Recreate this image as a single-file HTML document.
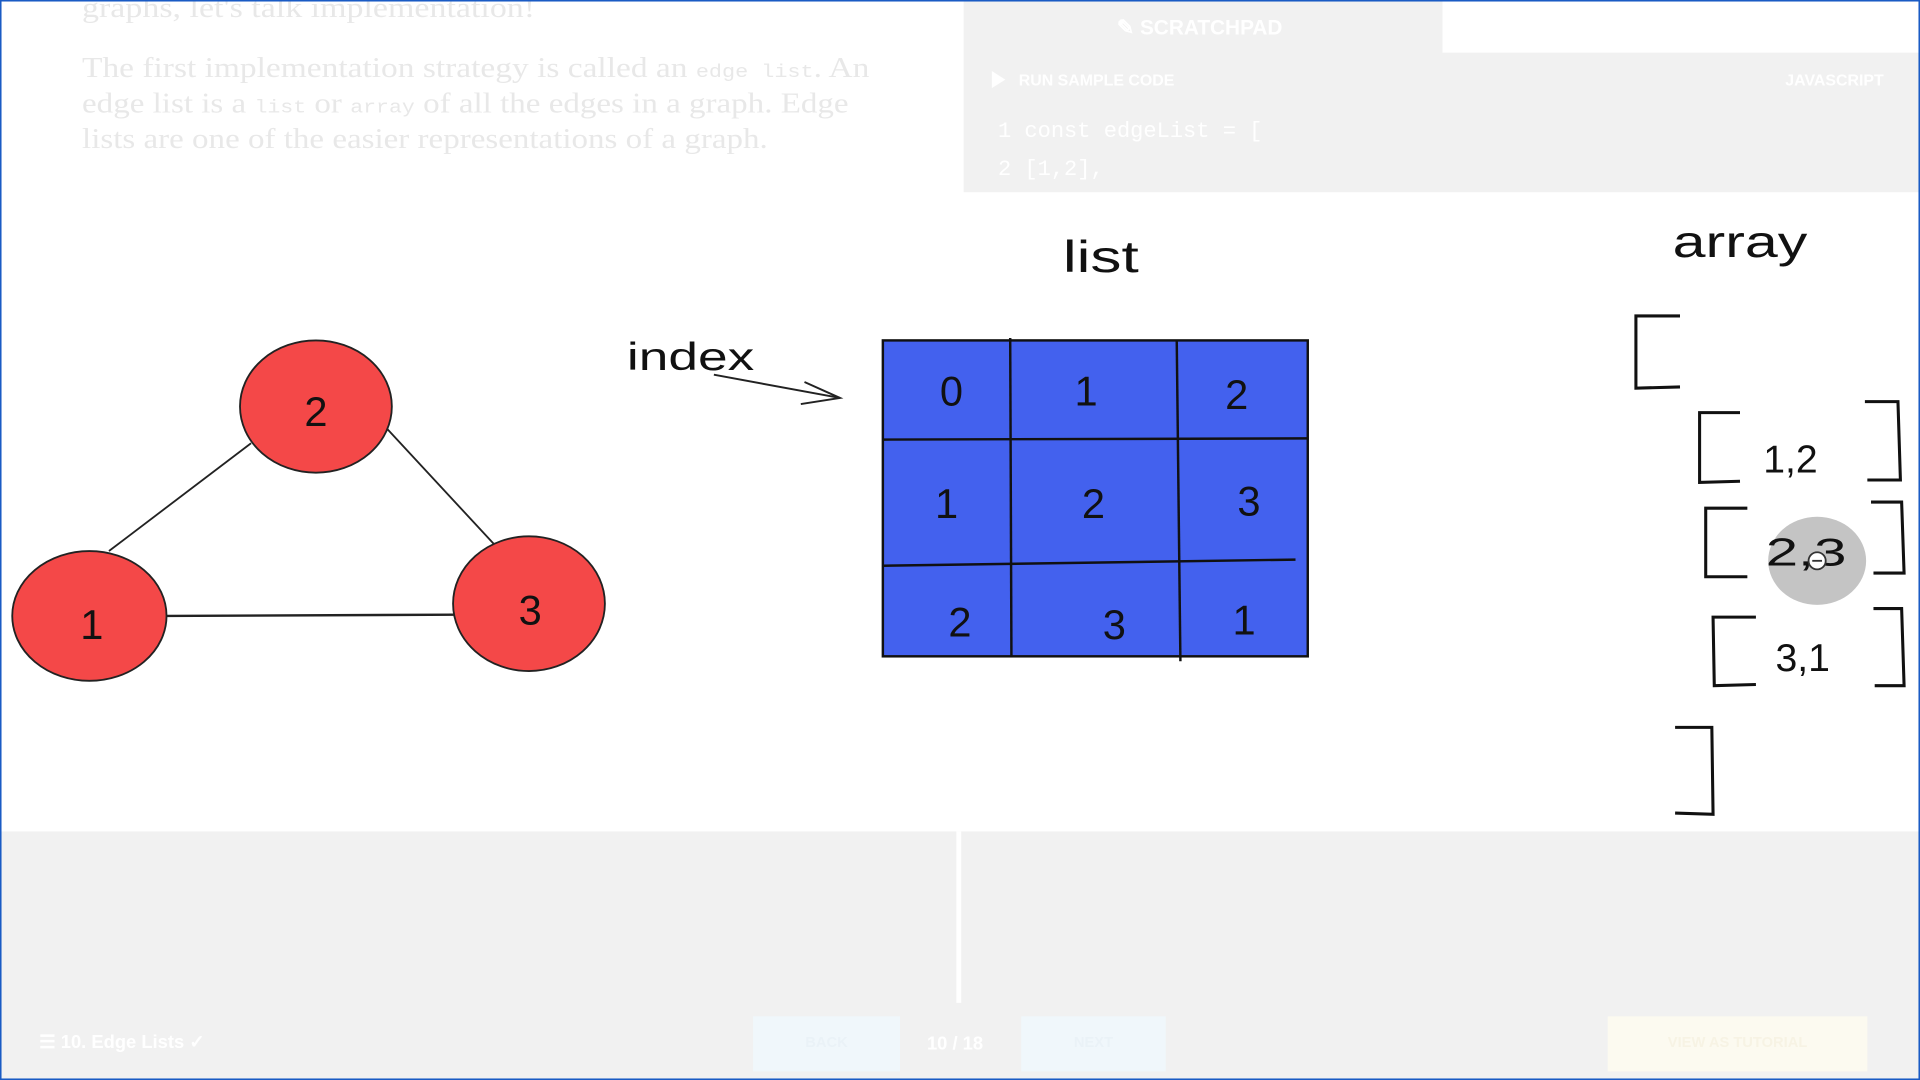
<!DOCTYPE html>
<html><head><meta charset="utf-8"><style>
html,body{margin:0;padding:0;background:#fff;width:1920px;height:1080px;overflow:hidden}
svg{display:block}
</style></head><body>
<svg width="1920" height="1080" viewBox="0 0 1568 882" xmlns="http://www.w3.org/2000/svg">
<rect x="0" y="0" width="1568" height="882" fill="#fff"/>
<g font-family="Liberation Serif, serif" font-size="23" fill="#e8e8e8">
<text x="67" y="14" textLength="370" lengthAdjust="spacingAndGlyphs">graphs, let's talk implementation!</text>
<text x="67" y="63" textLength="643" lengthAdjust="spacingAndGlyphs">The first implementation strategy is called an <tspan font-family="Liberation Mono" font-size="15">edge list</tspan>. An</text>
<text x="67" y="92" textLength="626" lengthAdjust="spacingAndGlyphs">edge list is a <tspan font-family="Liberation Mono" font-size="15">list</tspan> or <tspan font-family="Liberation Mono" font-size="15">array</tspan> of all the edges in a graph. Edge</text>
<text x="67" y="121" textLength="560" lengthAdjust="spacingAndGlyphs">lists are one of the easier representations of a graph.</text>
</g>
<rect x="787" y="0" width="781" height="157" fill="#f1f1f1"/>
<rect x="1178" y="0" width="390" height="43" fill="#fff"/>
<g font-family="Liberation Sans, sans-serif" fill="#fff" font-weight="bold">
<text x="912" y="28" font-size="17">✎ SCRATCHPAD</text>
<text x="832" y="70" font-size="13">RUN SAMPLE CODE</text>
<text x="1458" y="70" font-size="13">JAVASCRIPT</text>
</g>
<polygon points="810,58 810,72 821,65" fill="#fff"/>
<g font-family="Liberation Mono, monospace" font-size="18" fill="#fff">
<text x="815" y="112">1 const edgeList = [</text>
<text x="815" y="143">2   [1,2],</text>
</g>
<rect x="0" y="679" width="1568" height="203" fill="#f1f1f1"/>
<rect x="781" y="679" width="4" height="140" fill="#fff"/>
<rect x="615" y="830" width="120" height="45" fill="#f0f7fb"/>
<rect x="834" y="830" width="118" height="45" fill="#f0f7fb"/>
<rect x="1313" y="830" width="212" height="45" fill="#fcfaf0"/>
<g font-family="Liberation Sans, sans-serif" font-weight="bold" fill="#fff" font-size="15">
<text x="32" y="856">☰ 10. Edge Lists ✓</text>
<text x="757" y="857">10 / 18</text>
<text x="675" y="855" text-anchor="middle" font-size="12" fill="#eaf2f7">BACK</text>
<text x="893" y="855" text-anchor="middle" font-size="12" fill="#eaf2f7">NEXT</text>
<text x="1419" y="855" text-anchor="middle" font-size="12" fill="#f7f3e4">VIEW AS TUTORIAL</text>
</g>
<g stroke="#222" stroke-width="1.5">
<line x1="89" y1="450" x2="205" y2="362"/>
<line x1="316" y1="350" x2="404" y2="445"/>
<line x1="136" y1="503" x2="371" y2="502" stroke-width="2"/>
</g>
<g fill="#f44848" stroke="#222" stroke-width="1.5">
<ellipse cx="258" cy="332" rx="62" ry="54"/>
<ellipse cx="73" cy="503" rx="63" ry="53"/>
<ellipse cx="432" cy="493" rx="62" ry="55"/>
</g>
<g font-family="Liberation Sans, sans-serif" font-size="34" fill="#111" text-anchor="middle">
<text x="258" y="348">2</text>
<text x="75" y="522">1</text>
<text x="433" y="510">3</text>
</g>
<text x="512" y="302" font-family="Liberation Sans, sans-serif" font-size="32" fill="#111" textLength="104" lengthAdjust="spacingAndGlyphs">index</text>
<g stroke="#222" stroke-width="1.6" fill="none">
<line x1="583" y1="306" x2="686" y2="325"/>
<polyline points="657,312 686,325 654,330"/>
</g>
<text x="868" y="222" font-family="Liberation Sans, sans-serif" font-size="36" fill="#111" textLength="62" lengthAdjust="spacingAndGlyphs">list</text>
<rect x="721" y="278" width="347" height="258" fill="#4361ee" stroke="#111" stroke-width="2"/>
<g stroke="#111" stroke-width="2">
<line x1="825" y1="276" x2="826" y2="536"/>
<line x1="961" y1="278" x2="964" y2="540"/>
<line x1="721" y1="359" x2="1068" y2="358"/>
<line x1="721" y1="462" x2="1058" y2="457"/>
</g>
<g font-family="Liberation Sans, sans-serif" font-size="34" fill="#111" text-anchor="middle">
<text x="777" y="331">0</text><text x="887" y="331">1</text><text x="1010" y="334">2</text>
<text x="773" y="423">1</text><text x="893" y="423">2</text><text x="1020" y="421">3</text>
<text x="784" y="520">2</text><text x="910" y="522">3</text><text x="1016" y="518">1</text>
</g>
<text x="1366" y="210" font-family="Liberation Sans, sans-serif" font-size="36" fill="#111" textLength="110" lengthAdjust="spacingAndGlyphs">array</text>
<g stroke="#111" stroke-width="2.5" fill="none">
<polyline points="1372,258 1336,258 1336,317 1372,316"/>
<polyline points="1421,337 1388,337 1388,394 1421,393"/>
<polyline points="1523,328 1550,328 1552,392 1525,392"/>
<polyline points="1427,415 1393,415 1393,471 1427,471"/>
<polyline points="1528,410 1553,410 1555,468 1530,468"/>
<polyline points="1434,504 1399,504 1400,560 1434,559"/>
<polyline points="1530,497 1553,497 1555,560 1531,560"/>
<polyline points="1368,594 1398,594 1399,665 1368,664"/>
</g>
<ellipse cx="1484" cy="458" rx="40" ry="36" fill="#c4c4c4"/>
<g font-family="Liberation Sans, sans-serif" font-size="32" fill="#111">
<text x="1440" y="386">1,2</text>
<text x="1442" y="462" textLength="66" lengthAdjust="spacingAndGlyphs">2,3</text>
<text x="1450" y="548">3,1</text>
</g>
<circle cx="1484" cy="458" r="7" fill="#fff" stroke="#333" stroke-width="1.5"/>
<line x1="1480" y1="458" x2="1488" y2="458" stroke="#333" stroke-width="1.5"/>
<rect x="0.5" y="0.5" width="1567" height="881" fill="none" stroke="#1a5bc4" stroke-width="1.5"/>
</svg>
</body></html>
